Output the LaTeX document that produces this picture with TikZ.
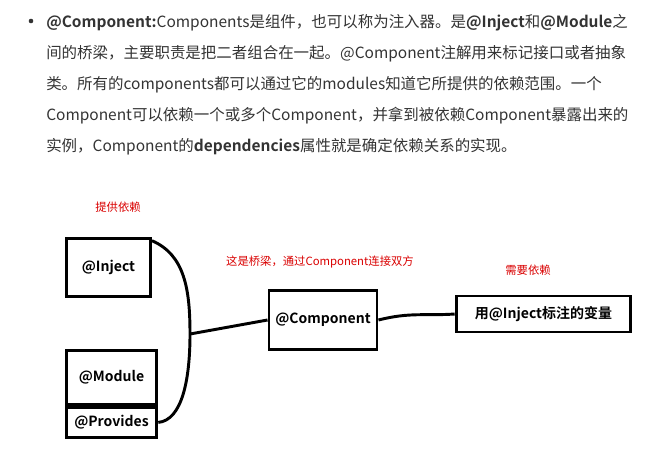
\documentclass[tikz,border=0pt]{standalone}
\usepackage{fontspec}
\setmainfont{Noto Sans CJK SC}[BoldFont={Noto Sans CJK SC Bold}]
\begin{document}
\begin{tikzpicture}[x=0.75pt,y=-0.75pt,
  txt/.style={anchor=base west,inner sep=0,text=black!80,font=\fontsize{11.6}{13}\selectfont},
  box/.style={draw,line width=2.2pt,font=\bfseries\fontsize{10.5}{12}\selectfont,inner sep=0},
  red/.style={text=red!85!black,font=\fontsize{8.5}{10}\selectfont,inner sep=0},
  conn/.style={line width=2.2pt}]
\useasboundingbox (0,0) rectangle (671,458);
\fill[black!80] (31,21) circle (2.3);
\node[txt] (l1) at (46,27) {\textbf{@Component:}Components是组件，也可以称为注入器。是\textbf{@Inject}和\textbf{@Module}之};
\node[txt] (l2) at (46,58) {间的桥梁，主要职责是把二者组合在一起。@Component注解用来标记接口或者抽象};
\node[txt] (l3) at (46,89) {类。所有的components都可以通过它的modules知道它所提供的依赖范围。一个};
\node[txt] (l4) at (46,120) {Component可以依赖一个或多个Component，并拿到被依赖Component暴露出来的};
\node[txt] (l5) at (46,151) {实例，Component的\textbf{dependencies}属性就是确定依赖关系的实现。};
\node[red] (t1) at (118,207) {提供依赖};
\node[red] (t2) at (320,262) {这是桥梁，通过Component连接双方};
\node[red] (t3) at (528,270) {需要依赖};
\node[box,minimum width=63pt,minimum height=44pt] (inj) at (108.5,267.5) {@Inject};
\node[box,minimum width=68pt,minimum height=40pt] (mod) at (111.5,377.5) {@Module};
\node[box,minimum width=68pt,minimum height=23pt,anchor=north] (pro) at (mod.south) {@Provides};
\node[box,minimum width=81pt,minimum height=44pt] (comp) at (323,320) {@Component};
\node[box,minimum width=131pt,minimum height=27pt] (var) at (543.5,314) {用@Inject标注的变量};
\coordinate (m) at (190,334);
\draw[conn] (inj.north east) ++(0,4) .. controls (185,255) and (190,290) .. (m) .. controls (190,380) and (182,420) .. (pro.east);
\draw[conn] (m) -- (comp.west);
\draw[conn] (comp.east) .. controls (410,312) and (425,316) .. (var.west);
\end{tikzpicture}
\end{document}
